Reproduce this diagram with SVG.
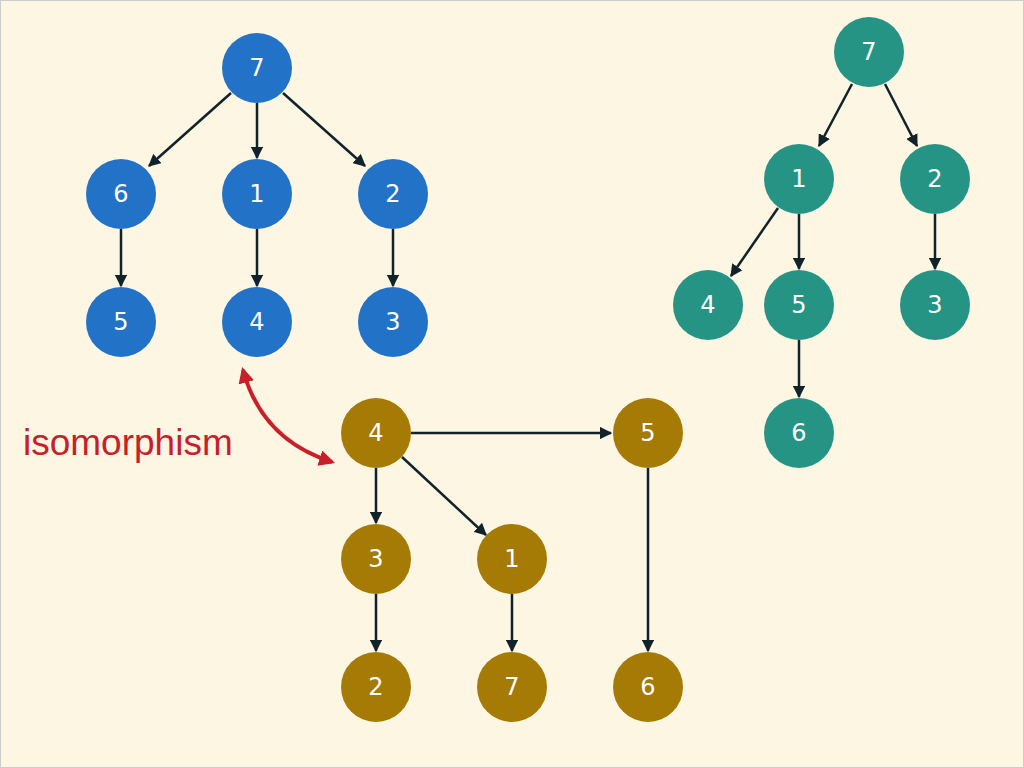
<svg xmlns="http://www.w3.org/2000/svg" width="1024" height="768" viewBox="0 0 1024 768">
<defs>
<marker id="a" viewBox="0 0 10 10" refX="9" refY="5" markerWidth="5" markerHeight="5" orient="auto-start-reverse"><path d="M0,0 L10,5 L0,10 z" fill="#10222a"/></marker>
<marker id="r" viewBox="0 0 10 10" refX="8" refY="5" markerWidth="4" markerHeight="4" orient="auto-start-reverse"><path d="M0,0 L10,5 L0,10 z" fill="#c8202a"/></marker>
<style>
.b{fill:#2272c8}.t{fill:#259485}.g{fill:#a57a05}
text.n{font-family:"DejaVu Sans",sans-serif;font-size:24px;fill:#fff;text-anchor:middle;dominant-baseline:central}
line{stroke:#10222a;stroke-width:2.5;marker-end:url(#a)}
</style>
</defs>
<rect x="0.5" y="0.5" width="1023" height="767" fill="#fdf6e3" stroke="#ccc"/>
<g id="connectors">
<line x1="231" y1="93" x2="149" y2="166"/>
<line x1="257" y1="103" x2="257" y2="158"/>
<line x1="283" y1="93" x2="365" y2="166"/>
<line x1="121" y1="229" x2="121" y2="286"/>
<line x1="257" y1="229" x2="257" y2="286"/>
<line x1="393" y1="229" x2="393" y2="286"/>
<line x1="852" y1="84" x2="819" y2="146"/>
<line x1="885" y1="84" x2="917" y2="146"/>
<line x1="778" y1="208" x2="731" y2="276"/>
<line x1="799" y1="214" x2="799" y2="269"/>
<line x1="935" y1="214" x2="935" y2="269"/>
<line x1="799" y1="340" x2="799" y2="397"/>
<line x1="411" y1="433" x2="611" y2="433"/>
<line x1="402" y1="457" x2="486" y2="535"/>
<line x1="376" y1="468" x2="376" y2="523"/>
<line x1="376" y1="594" x2="376" y2="651"/>
<line x1="512" y1="594" x2="512" y2="651"/>
<line x1="648" y1="468" x2="648" y2="651"/>
<path d="M243,370 Q262,440 332,462" fill="none" stroke="#c8202a" stroke-width="4" marker-start="url(#r)" marker-end="url(#r)"/>
</g>
<g id="blue">
<g id="b7"><circle class="b" cx="257" cy="68" r="35"/><text class="n" x="257" y="68">7</text></g>
<g id="b6"><circle class="b" cx="121" cy="194" r="35"/><text class="n" x="121" y="194">6</text></g>
<g id="b1"><circle class="b" cx="257" cy="194" r="35"/><text class="n" x="257" y="194">1</text></g>
<g id="b2"><circle class="b" cx="393" cy="194" r="35"/><text class="n" x="393" y="194">2</text></g>
<g id="b5"><circle class="b" cx="121" cy="322" r="35"/><text class="n" x="121" y="322">5</text></g>
<g id="b4"><circle class="b" cx="257" cy="322" r="35"/><text class="n" x="257" y="322">4</text></g>
<g id="b3"><circle class="b" cx="393" cy="322" r="35"/><text class="n" x="393" y="322">3</text></g>
</g>
<g id="teal">
<g id="t7"><circle class="t" cx="869" cy="52" r="35"/><text class="n" x="869" y="52">7</text></g>
<g id="t1"><circle class="t" cx="799" cy="179" r="35"/><text class="n" x="799" y="179">1</text></g>
<g id="t2"><circle class="t" cx="935" cy="179" r="35"/><text class="n" x="935" y="179">2</text></g>
<g id="t4"><circle class="t" cx="708" cy="305" r="35"/><text class="n" x="708" y="305">4</text></g>
<g id="t5"><circle class="t" cx="799" cy="305" r="35"/><text class="n" x="799" y="305">5</text></g>
<g id="t3"><circle class="t" cx="935" cy="305" r="35"/><text class="n" x="935" y="305">3</text></g>
<g id="t6"><circle class="t" cx="799" cy="433" r="35"/><text class="n" x="799" y="433">6</text></g>
</g>
<g id="gold">
<g id="g4"><circle class="g" cx="376" cy="433" r="35"/><text class="n" x="376" y="433">4</text></g>
<g id="g5"><circle class="g" cx="648" cy="433" r="35"/><text class="n" x="648" y="433">5</text></g>
<g id="g3"><circle class="g" cx="376" cy="559" r="35"/><text class="n" x="376" y="559">3</text></g>
<g id="g1"><circle class="g" cx="512" cy="559" r="35"/><text class="n" x="512" y="559">1</text></g>
<g id="g2"><circle class="g" cx="376" cy="687" r="35"/><text class="n" x="376" y="687">2</text></g>
<g id="g7"><circle class="g" cx="512" cy="687" r="35"/><text class="n" x="512" y="687">7</text></g>
<g id="g6"><circle class="g" cx="648" cy="687" r="35"/><text class="n" x="648" y="687">6</text></g>
</g>
<text x="23" y="455" font-family="'Liberation Sans',Arial,sans-serif" font-size="37" fill="#c8202a">isomorphism</text>
</svg>
